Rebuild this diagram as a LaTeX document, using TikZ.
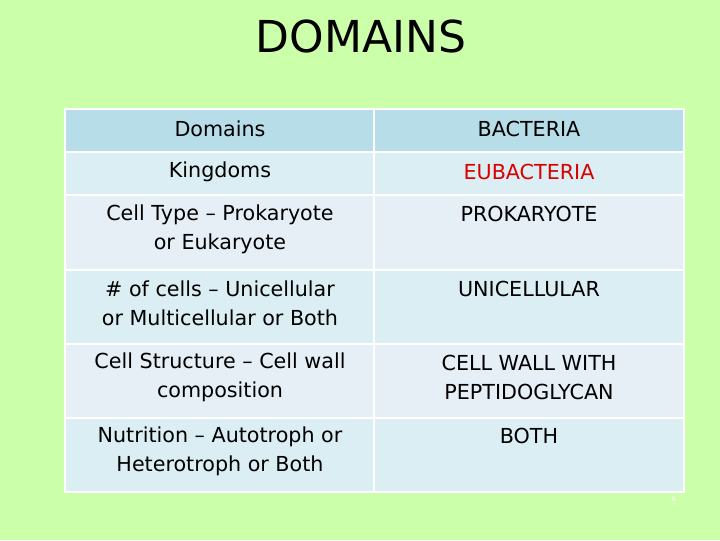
\documentclass[tikz,border=0pt]{standalone}
\usepackage{fontspec}
\setmainfont{DejaVu Sans}
\begin{document}
\begin{tikzpicture}[x=0.75pt,y=-0.75pt,
 cell/.style={draw=white,line width=1.5pt},
 txt/.style={align=center,font=\fontsize{15.5}{21.75}\selectfont,inner sep=0pt}]
\definecolor{bg}{HTML}{CCFFAA}
\definecolor{hd}{HTML}{B7DDE8}
\definecolor{r1}{HTML}{DBEEF3}
\definecolor{r2}{HTML}{E6EEF6}
\fill[bg] (0,0) rectangle (720,540);
\useasboundingbox (0,0) rectangle (720,540);
\node[font=\fontsize{33}{38}\selectfont] (title) at (361,36) {DOMAINS};
\def\ys{{109,152,195,270,344,418,492}}
\foreach \i/\c in {0/hd,1/r1,2/r2,3/r1,4/r2,5/r1}{
  \pgfmathsetmacro\ya{\ys[\i]}\pgfmathsetmacro\yb{\ys[\i+1]}
  \fill[\c] (65,\ya) rectangle (684,\yb);
  \draw[cell] (65,\ya) rectangle (374,\yb);
  \draw[cell] (374,\ya) rectangle (684,\yb);
}
\node[txt] (l0) at (220,129) {Domains};
\node[txt] (r0) at (529,129) {BACTERIA};
\node[txt] (l1) at (220,172) {Kingdoms};
\node[txt,red!85!black] (r1) at (529,172) {EUBACTERIA};
\node[txt] (l2) at (220,229) {Cell Type – Prokaryote\\or Eukaryote};
\node[txt] (r2) at (529,214) {PROKARYOTE};
\node[txt] (l3) at (220,303) {\# of cells – Unicellular\\or Multicellular or Both};
\node[txt] (r3) at (529,289) {UNICELLULAR};
\node[txt] (l4) at (220,377) {Cell Structure – Cell wall\\composition};
\node[txt] (r4) at (529,377) {CELL WALL WITH\\PEPTIDOGLYCAN};
\node[txt] (l5) at (220,451) {Nutrition – Autotroph or\\Heterotroph or Both};
\node[txt] (r5) at (529,436) {BOTH};
\node[font=\fontsize{5}{6}\selectfont,text=white] (pg) at (674,499) {6};
\end{tikzpicture}
\end{document}
